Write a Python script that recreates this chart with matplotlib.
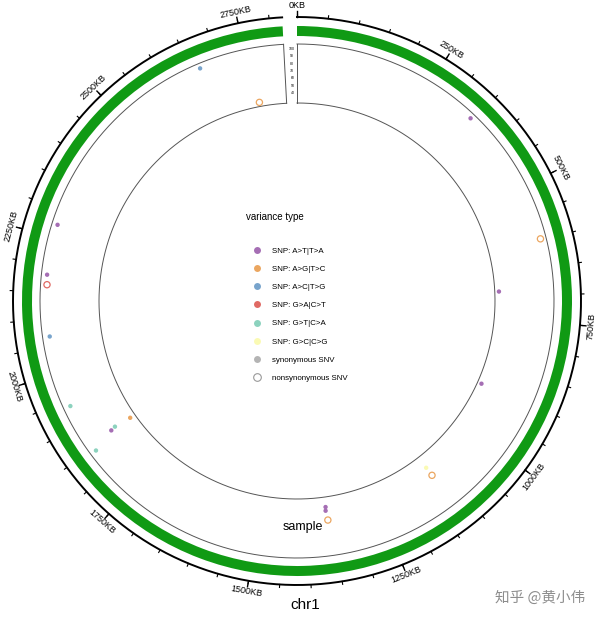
import numpy as np
import matplotlib.pyplot as plt
from matplotlib.lines import Line2D

plt.rcParams['font.family'] = ['Liberation Sans', 'DejaVu Sans']

# chromosome / track
chrom_name = 'chr1'
chrom_len_kb = 2821
track_name = 'sample'

# SNV calls: position (KB), allele frequency (%), class, synonymous?
snv_pos = [2666, 2760, 344, 598, 690, 902, 1124, 1124, 1360, 1361, 1359,
           1857, 1860, 1858, 1844, 1937, 2069, 2163, 2181, 2273]
snv_freq = [100, 32, 100, 99, 32, 32, 44, 57, 40, 45, 58,
            34, 58, 65, 98, 97, 97, 98, 99, 99]
snv_type = ['A>C', 'A>G', 'A>T', 'A>G', 'A>T', 'A>T', 'G>C', 'A>G', 'A>T', 'A>T', 'A>G',
            'A>G', 'G>T', 'A>T', 'G>T', 'G>T', 'A>C', 'G>A', 'A>T', 'A>T']
snv_syn = [True, False, True, False, True, True, True, False, True, True, False,
           True, True, True, True, True, True, False, True, True]

type_keys = ['A>T', 'A>G', 'A>C', 'G>A', 'G>T', 'G>C']
type_labels = ['SNP: A>T|T>A', 'SNP: A>G|T>C', 'SNP: A>C|T>G',
               'SNP: G>A|C>T', 'SNP: G>T|C>A', 'SNP: G>C|C>G']
type_colors = ['#a56eb4', '#eba660', '#78a4cc', '#e06a64', '#8cd2be', '#fafab4']

major_ticks = list(range(0, 2751, 250))
minor_ticks = list(range(0, 2801, 50))
freq_labels = [100, 90, 80, 70, 60, 50, 40]

# geometry (pixels at 100 dpi)
span_deg = 357.0
R_AXIS = 284
R_GREEN_IN, R_GREEN_OUT = 265, 275
R_TRACK_IN, R_TRACK_OUT = 198, 257


def kb2theta(kb):
    return np.deg2rad(np.asarray(kb, dtype=float) * span_deg / chrom_len_kb)


def freq2r(v):
    return 252 - (100 - np.asarray(v, dtype=float)) * 0.733


fig = plt.figure(figsize=(6, 6.22), dpi=100)
rmax = 310
cx, cy = 297, 301
ax = fig.add_axes([(cx - rmax) / 600, (622 - cy - rmax) / 622, 2 * rmax / 600, 2 * rmax / 622],
                  projection='polar')
ax.set_theta_zero_location('N')
ax.set_theta_direction(-1)
ax.set_ylim(0, rmax)
ax.axis('off')

span = kb2theta(chrom_len_kb)
th = np.linspace(0, span, 600)

# ideogram ring
ax.bar(span / 2, R_GREEN_OUT - R_GREEN_IN, width=span, bottom=R_GREEN_IN,
       color='#109a14', linewidth=0)

# genome axis
ax.plot(th, np.full_like(th, R_AXIS), color='black', lw=1.4)
for kb in minor_ticks:
    t = kb2theta(kb)
    ax.plot([t, t], [R_AXIS, R_AXIS + 3], color='black', lw=0.8)
for kb in major_ticks:
    t = kb2theta(kb)
    ax.plot([t, t], [R_AXIS, R_AXIS + 6], color='black', lw=1.0)
    d = np.rad2deg(t)
    rot = 180 - d if 90 < d < 270 else -d
    ax.text(t, R_AXIS + 11, f'{kb}KB', rotation=rot, rotation_mode='anchor',
            ha='center', va='center', fontsize=6.5)

# track border
for r in (R_TRACK_IN, R_TRACK_OUT):
    ax.plot(th, np.full_like(th, r), color='#555555', lw=0.7)
for t in (0, span):
    ax.plot([t, t], [R_TRACK_IN, R_TRACK_OUT], color='#555555', lw=0.7)

# y labels in the gap
for v in freq_labels:
    ax.text(np.deg2rad(358.8), freq2r(v), str(v), ha='center', va='center', fontsize=2.5)

# SNV points
color_of = dict(zip(type_keys, type_colors))
pos = kb2theta(snv_pos)
rad = freq2r(snv_freq)
for t, r, k, s in zip(pos, rad, snv_type, snv_syn):
    c = color_of[k]
    if s:
        ax.scatter(t, r, s=10, color=c, edgecolors='none', zorder=3)
    else:
        ax.scatter(t, r, s=20, facecolors='none', edgecolors=c, linewidths=0.9, zorder=3)

# names
ax.text(span / 2, 226, track_name, ha='center', va='center', fontsize=9)
ax.text(span / 2, 304, chrom_name, ha='center', va='center', fontsize=11)

# legend
handles = [Line2D([], [], marker='o', linestyle='', markersize=5,
                  markerfacecolor=c, markeredgecolor='none') for c in type_colors]
handles.append(Line2D([], [], marker='o', linestyle='', markersize=5,
                      markerfacecolor='#b4b4b4', markeredgecolor='none'))
handles.append(Line2D([], [], marker='o', linestyle='', markersize=5.5,
                      markerfacecolor='none', markeredgecolor='#999999', markeredgewidth=0.8))
labels = type_labels + ['synonymous SNV', 'nonsynonymous SNV']
fig.text(246 / 600, 1 - 217 / 622, 'variance type', fontsize=7, ha='left', va='center')
fig.legend(handles, labels, loc='upper left', bbox_to_anchor=(253 / 600, 1 - 247 / 622),
           frameon=False, fontsize=5.7, handlelength=1.0, handletextpad=1.4,
           labelspacing=1.35, borderpad=0, borderaxespad=0)

fig.text(540 / 600, 1 - 598 / 622, '知乎 @黄小伟', fontsize=10.5, color='#8c8c8c',
         ha='center', va='center', family=['Noto Sans CJK SC', 'DejaVu Sans'])

fig.savefig('out.png', dpi=100)
